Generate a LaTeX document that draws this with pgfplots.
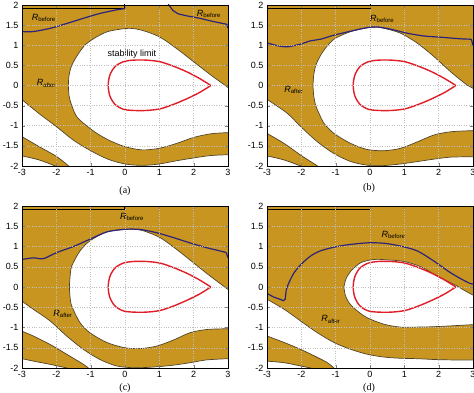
\documentclass[border=0pt]{standalone}
\usepackage{fontspec}
\setmainfont{Liberation Sans}
\newfontfamily\capfont{Liberation Serif}
\usepackage{pgfplots}
\pgfplotsset{compat=1.18}
\usepgfplotslibrary{fillbetween}
\definecolor{gold}{RGB}{199,149,32}
\definecolor{bnd}{RGB}{80,66,36}
\definecolor{navy}{RGB}{45,35,125}
\definecolor{tred}{RGB}{225,30,40}
\pgfplotsset{
  panel/.style={
    scale only axis, width=206pt,
    xmin=-3, xmax=3, ymin=-2, ymax=2,
    xtick={-3,-2,-1,0,1,2,3},
    ytick={-2,-1.5,-1,-0.5,0,0.5,1,1.5,2},
    grid=major,
    grid style={dotted, line width=0.5pt, color=black!25},
    axis background/.style={fill=gold},
    set layers, axis on top,
    tick label style={font=\fontsize{9}{10}\selectfont},
    /pgf/number format/assume math mode=true,
    tick align=inside, major tick length=3pt,
    axis line style={line width=0.6pt},
    every axis plot/.append style={line join=round},
  },
}
\tikzset{
  bline/.style={bnd, line width=0.7pt, smooth},
  lab/.style={anchor=base west, font=\fontsize{9}{10}\selectfont, inner sep=0pt},
}
\newcommand\labR[1]{\textit{R}\textsubscript{#1}}
\newcommand\teardrop{%
  \addplot[tred, line width=1.4pt, smooth] coordinates {
    (2.50,0) (2.18,0.17) (1.80,0.34) (1.41,0.48) (1.02,0.59) (0.63,0.63)
    (0.24,0.63) (-0.05,0.59) (-0.29,0.47) (-0.44,0.26) (-0.49,0)
    (-0.44,-0.26) (-0.29,-0.47) (-0.05,-0.59) (0.24,-0.62) (0.63,-0.62)
    (1.02,-0.58) (1.41,-0.47) (1.80,-0.33) (2.18,-0.17) (2.50,0)};
}
\newcommand\bottomline{%
  \addplot[draw=none, name path=bot] coordinates {(-3.5,-2.6) (3.5,-2.6)};
}
\begin{document}
\begin{tikzpicture}

% ---------------- (a)
\begin{axis}[panel, height=161pt, at={(22pt,-5pt)}, anchor=north west]
\addplot[bline, name path=A1] coordinates {
 (-1.65,0) (-1.63,0.25) (-1.55,0.5) (-1.38,0.76) (-1.17,1.0) (-0.9,1.17)
 (-0.5,1.34) (0.1,1.42) (0.5,1.37) (1,1.21) (1.5,0.92) (2,0.59) (2.5,0.26)
 (3,-0.05) (3.3,-0.25)};
\addplot[bline, name path=A2] coordinates {
 (-1.65,0) (-1.63,-0.25) (-1.55,-0.5) (-1.4,-0.78) (-1.12,-1.0) (-0.8,-1.2)
 (-0.44,-1.37) (0,-1.52) (0.5,-1.6) (1,-1.56) (1.5,-1.44) (2,-1.29)
 (2.5,-1.2) (3,-1.17) (3.3,-1.16)};
\addplot[bline, name path=L] coordinates {
 (-3.3,-0.12) (-3,-0.35) (-2.5,-0.7) (-2,-1.02) (-1.5,-1.36) (-1,-1.62)
 (-0.5,-1.83) (0,-1.95) (0.5,-1.985) (1,-1.95) (1.5,-1.87) (2,-1.8)
 (2.5,-1.74) (3,-1.72) (3.3,-1.71)};
\addplot[bline, name path=S1] coordinates {
 (-3.3,-1.12) (-3,-1.27) (-2.5,-1.52) (-2,-1.76) (-1.64,-2) (-1.3,-2.25)};
\addplot[bline, name path=S2] coordinates {
 (-3.3,-1.72) (-3,-1.75) (-2.5,-1.85) (-2.03,-2) (-1.7,-2.12)};
\bottomline
\addplot[fill=white, draw=none] fill between[of=A1 and A2];
\addplot[fill=white, draw=none] fill between[of=L and bot];
\addplot[fill=gold, draw=none] fill between[of=S1 and S2];
\addplot[black, line width=1pt] coordinates {(-3,1.92) (0,1.92) (0,2.05)};
\addplot[navy, line width=1.2pt, smooth] coordinates {
 (-3,1.34) (-2.67,1.34) (-2.18,1.42) (-1.70,1.54) (-1.21,1.67) (-0.73,1.79)
 (-0.24,1.88) (0,1.91)};
\addplot[navy, line width=1.2pt] coordinates {
 (1.26,2.02) (1.4,1.86) (1.55,1.78) (1.8,1.73) (2.18,1.67) (2.57,1.59)
 (2.91,1.53) (2.97,1.52) (3,1.42)};
\teardrop
\node[lab] at (axis cs:-2.72,1.61) {\labR{before}};
\node[lab] at (axis cs:2.09,1.71) {\labR{before}};
\node[lab] at (axis cs:-2.57,-0.01) {\labR{after}};
\node[anchor=base, font=\fontsize{9}{10}\selectfont, inner sep=0pt] at (axis cs:0.2,0.73) {stability limit};
\end{axis}

% ---------------- (b)
\begin{axis}[panel, height=161pt, at={(267pt,-5pt)}, anchor=north west]
\addplot[bline, name path=A1] coordinates {
 (-1.66,0) (-1.64,0.25) (-1.58,0.5) (-1.47,0.7) (-1.34,0.88) (-1.05,1.15)
 (-0.56,1.34) (-0.08,1.43) (0.2,1.45) (0.41,1.42) (0.89,1.30) (1.38,1.05)
 (1.86,0.72) (2.35,0.34) (2.83,0.01) (3,-0.07) (3.3,-0.27)};
\addplot[bline, name path=A2] coordinates {
 (-1.66,0) (-1.64,-0.25) (-1.58,-0.5) (-1.47,-0.72) (-1.34,-0.94)
 (-1.05,-1.19) (-0.56,-1.44) (-0.08,-1.59) (0.41,-1.62) (0.89,-1.56)
 (1.38,-1.40) (1.86,-1.23) (2.35,-1.15) (3,-1.12) (3.3,-1.11)};
\addplot[bline, name path=L] coordinates {
 (-3.3,-0.13) (-3,-0.34) (-2.41,-0.69) (-2.02,-1.02) (-1.53,-1.40)
 (-1.05,-1.69) (-0.56,-1.89) (-0.08,-1.98) (0.3,-1.995) (0.89,-1.95)
 (1.38,-1.89) (1.86,-1.83) (2.35,-1.78) (3,-1.77) (3.3,-1.77)};
\addplot[bline, name path=S1] coordinates {
 (-3.3,-1.04) (-3,-1.19) (-2.5,-1.44) (-2.02,-1.73) (-1.53,-2.0) (-1.2,-2.2)};
\addplot[bline, name path=S2] coordinates {
 (-3.3,-1.72) (-3,-1.75) (-2.5,-1.85) (-2.02,-2.0) (-1.7,-2.12)};
\bottomline
\addplot[fill=white, draw=none] fill between[of=A1 and A2];
\addplot[fill=white, draw=none] fill between[of=L and bot];
\addplot[fill=gold, draw=none] fill between[of=S1 and S2];
\addplot[black, line width=1pt] coordinates {(-3,1.92) (0,1.92) (0,2.05)};
\addplot[navy, line width=1.2pt, smooth] coordinates {
 (-3,1.06) (-2.7,0.99) (-2.41,0.96) (-2.02,1.03) (-1.73,1.11) (-1.44,1.15)
 (-1.05,1.25) (-0.56,1.35) (-0.08,1.44) (0.2,1.455) (0.6,1.40) (1.08,1.30)
 (1.57,1.23) (2.06,1.20) (2.64,1.16) (2.95,1.15)};
\addplot[navy, line width=1.2pt] coordinates {(2.95,1.15) (3,1.0)};
\teardrop
\node[lab] at (axis cs:0.0,1.59) {\labR{before}};
\node[lab] at (axis cs:-2.50,-0.18) {\labR{after}};
\end{axis}

% ---------------- (c)
\begin{axis}[panel, height=162pt, at={(22pt,-206pt)}, anchor=north west]
\addplot[bline, name path=A1] coordinates {
 (-1.62,0) (-1.6,0.25) (-1.55,0.52) (-1.31,0.89) (-1.02,1.14) (-0.53,1.36)
 (0,1.42) (0.3,1.42) (0.53,1.39) (1.02,1.22) (1.50,0.93) (1.99,0.60)
 (2.48,0.27) (3,-0.06) (3.3,-0.25)};
\addplot[bline, name path=A2] coordinates {
 (-1.62,0) (-1.6,-0.25) (-1.55,-0.47) (-1.31,-0.88) (-1.02,-1.13)
 (-0.53,-1.37) (0,-1.50) (0.44,-1.52) (0.92,-1.46) (1.41,-1.31)
 (1.89,-1.13) (2.38,-1.05) (3,-1.03) (3.3,-1.03)};
\addplot[bline, name path=L] coordinates {
 (-3.3,-0.15) (-3,-0.35) (-2.67,-0.55) (-2.18,-0.84) (-1.70,-1.21)
 (-1.21,-1.54) (-0.73,-1.79) (-0.24,-1.95) (0.3,-1.995) (0.92,-1.97)
 (1.41,-1.93) (1.89,-1.87) (2.38,-1.80) (3,-1.77) (3.3,-1.76)};
\addplot[bline, name path=S1] coordinates {
 (-3.3,-0.95) (-3,-1.09) (-2.67,-1.21) (-2.18,-1.42) (-1.70,-1.66)
 (-1.21,-1.91) (-1.07,-2.0) (-0.9,-2.12)};
\addplot[bline, name path=S2] coordinates {
 (-3.3,-1.74) (-3,-1.77) (-2.67,-1.83) (-2.18,-1.91) (-1.70,-2.0) (-1.4,-2.08)};
\bottomline
\addplot[fill=white, draw=none] fill between[of=A1 and A2];
\addplot[fill=white, draw=none] fill between[of=L and bot];
\addplot[fill=gold, draw=none] fill between[of=S1 and S2];
\addplot[black, line width=1pt] coordinates {(-3,1.92) (0,1.92) (0,2.05)};
\addplot[navy, line width=1.2pt, smooth] coordinates {
 (-3,0.68) (-2.67,0.72) (-2.38,0.70) (-1.99,0.85) (-1.50,1.0) (-1.02,1.18)
 (-0.53,1.36) (0,1.425) (0.44,1.42) (0.92,1.34) (1.41,1.22) (1.89,1.09)
 (2.38,0.97) (2.77,0.89) (2.95,0.85)};
\addplot[navy, line width=1.2pt] coordinates {(2.95,0.85) (3,0.72)};
\teardrop
\node[lab] at (axis cs:-0.15,1.67) {\labR{before}};
\node[lab] at (axis cs:-2.09,-0.72) {\labR{after}};
\end{axis}

% ---------------- (d)
\begin{axis}[panel, height=162pt, at={(267pt,-206pt)}, anchor=north west]
\addplot[bline, name path=A1] coordinates {
 (-0.76,0) (-0.7,0.2) (-0.56,0.39) (-0.27,0.60) (0.12,0.68) (0.5,0.67)
 (0.99,0.63) (1.48,0.50) (1.96,0.27) (2.5,0.04) (2.74,-0.08) (3,-0.2)
 (3.3,-0.33)};
\addplot[bline, name path=A2] coordinates {
 (-0.76,0) (-0.72,-0.2) (-0.61,-0.39) (-0.37,-0.59) (-0.08,-0.76)
 (0.41,-0.92) (0.89,-0.99) (1.38,-0.99) (1.86,-0.98) (2.35,-0.96)
 (3,-0.93) (3.3,-0.92)};
\addplot[bline, name path=L] coordinates {
 (-3.3,-0.14) (-3,-0.30) (-2.5,-0.55) (-2.02,-0.84) (-1.53,-1.13)
 (-1.05,-1.37) (-0.56,-1.54) (-0.08,-1.66) (0.41,-1.73) (0.89,-1.76)
 (1.38,-1.77) (1.86,-1.79) (2.35,-1.80) (3,-1.80) (3.3,-1.80)};
\addplot[bline, name path=S1] coordinates {
 (-3.3,-1.11) (-3,-1.21) (-2.5,-1.37) (-2.02,-1.54) (-1.53,-1.74)
 (-1.24,-1.87) (-1.05,-2.0) (-0.9,-2.12)};
\addplot[bline, name path=S2] coordinates {
 (-3.3,-1.81) (-3,-1.83) (-2.5,-1.87) (-2.02,-1.95) (-1.73,-2.0) (-1.4,-2.06)};
\bottomline
\addplot[fill=white, draw=none] fill between[of=A1 and A2];
\addplot[fill=white, draw=none] fill between[of=L and bot];
\addplot[fill=gold, draw=none] fill between[of=S1 and S2];
\addplot[black, line width=1pt] coordinates {(-3,1.92) (0,1.92) (0,2.05)};
\addplot[navy, line width=1.2pt] coordinates {
 (-3,-0.16) (-2.8,-0.25) (-2.6,-0.31) (-2.52,-0.34) (-2.47,-0.30)
 (-2.44,-0.08)};
\addplot[navy, line width=1.2pt, smooth] coordinates {
 (-2.44,-0.08) (-2.37,0.09) (-2.22,0.34) (-2.03,0.54) (-1.74,0.76)
 (-1.45,0.89) (-1.06,0.98) (-0.67,1.04) (-0.08,1.09) (0.41,1.08)
 (0.89,1.01) (1.38,0.89) (1.86,0.64) (2.35,0.35) (2.83,0.12) (3,0.07)};
\teardrop
\node[lab] at (axis cs:0.33,1.23) {\labR{before}};
\node[lab] at (axis cs:-1.42,-0.86) {\labR{after}};
\end{axis}

\node[font=\capfont\fontsize{10}{12}\selectfont] at (125pt,-191pt) {(a)};
\node[font=\capfont\fontsize{10}{12}\selectfont] at (369pt,-188pt) {(b)};
\node[font=\capfont\fontsize{10}{11}\selectfont, inner sep=0pt, anchor=south] at (125pt,-392.5pt) {(c)};
\node[font=\capfont\fontsize{10}{11}\selectfont, inner sep=0pt, anchor=south] at (369pt,-392.5pt) {(d)};
\pgfresetboundingbox
\path[use as bounding box] (0,0) rectangle (474pt,-393pt);
\end{tikzpicture}
\end{document}
